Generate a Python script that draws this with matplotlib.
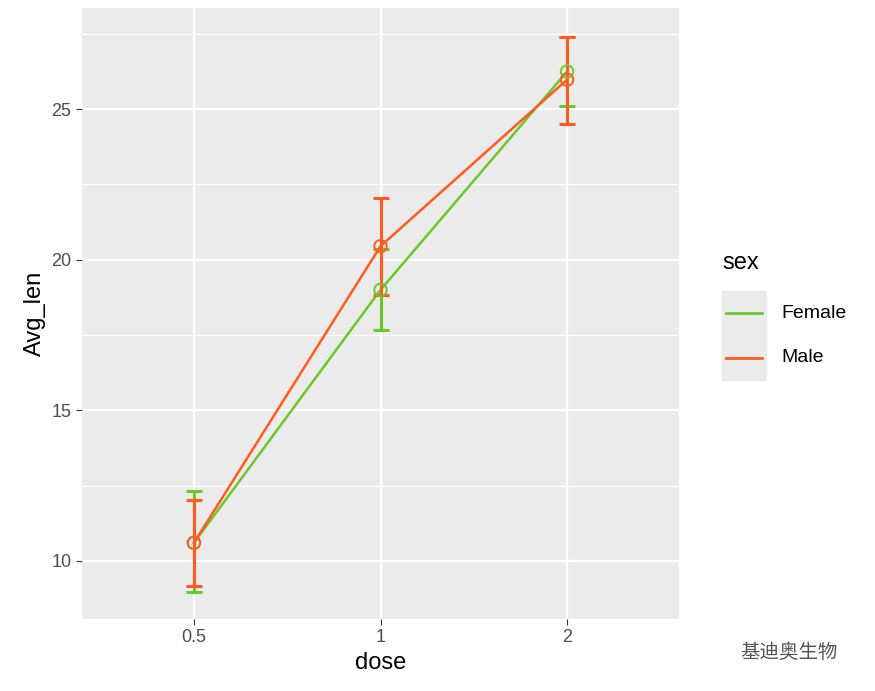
import matplotlib
matplotlib.use("Agg")
import matplotlib.pyplot as plt
from matplotlib.patches import Rectangle
from matplotlib.lines import Line2D

plt.rcParams['font.family'] = ['Liberation Sans', 'DejaVu Sans']

doses = ["0.5", "1", "2"]
sexes = ["Female", "Male"]
female_avg = [10.6, 19.0, 26.25]
female_lo = [8.97, 17.67, 25.12]
female_hi = [12.32, 20.37, 27.39]
male_avg = [10.6, 20.45, 25.98]
male_lo = [9.17, 18.84, 24.5]
male_hi = [12.02, 22.04, 27.39]
colors = {"Female": "#6AC82A", "Male": "#FF5A1F"}

fig = plt.figure(figsize=(8.75, 6.91), dpi=100)
ax = fig.add_axes([82/875, 72/691, 597/875, 611/691])
ax.set_facecolor("#EBEBEB")
x = [1, 2, 3]
for s, avg, lo, hi in [("Female", female_avg, female_lo, female_hi),
                       ("Male", male_avg, male_lo, male_hi)]:
    c = colors[s]
    ax.plot(x, avg, color=c, lw=1.8, zorder=3)
    yerr = [[a - l for a, l in zip(avg, lo)], [h - a for a, h in zip(avg, hi)]]
    ax.errorbar(x, avg, yerr=yerr, fmt="none", ecolor=c, elinewidth=2.2,
                capsize=6, capthick=2.2, zorder=3)
    ax.scatter(x, avg, s=80, facecolors="none", edgecolors=c, linewidths=1.4, zorder=4)

ax.set_xlim(0.4, 3.6)
ax.set_ylim(8.07, 28.36)
ax.set_xticks(x)
ax.set_xticklabels(doses)
ax.set_yticks([10, 15, 20, 25])
ax.set_yticks([12.5, 17.5, 22.5, 27.5], minor=True)
ax.grid(True, which="major", color="white", lw=1.6)
ax.grid(True, which="minor", color="white", lw=0.8)
ax.set_axisbelow(True)
for sp in ax.spines.values():
    sp.set_visible(False)
ax.tick_params(which="major", colors="#333333", labelsize=13, length=4, color="#333333")
ax.tick_params(which="minor", length=0)
ax.tick_params(axis="x", labelcolor="#4D4D4D")
ax.tick_params(axis="y", labelcolor="#4D4D4D")
ax.set_xlabel("dose", fontsize=17)
ax.set_ylabel("Avg_len", fontsize=17)

# legend
fig.text(722/875, 1 - 263/691, "sex", fontsize=17, va="center", ha="left")
for i, s in enumerate(sexes):
    yc = 313 + 45 * i
    fig.patches.append(Rectangle((722/875, 1 - (yc + 22)/691), 44/875, 44/691,
                                 transform=fig.transFigure, color="#EBEBEB"))
    fig.lines.append(Line2D([726/875, 762/875], [1 - yc/691] * 2,
                            transform=fig.transFigure, color=colors[s], lw=2))
    fig.text(781/875, 1 - yc/691, s, fontsize=14, va="center", ha="left")

fig.text(740/875, 1 - 653/691, "基迪奥生物", fontsize=14, color="#555555",
         family=["Noto Sans CJK SC", "DejaVu Sans"], va="center")
fig.savefig("out.png", dpi=100)
